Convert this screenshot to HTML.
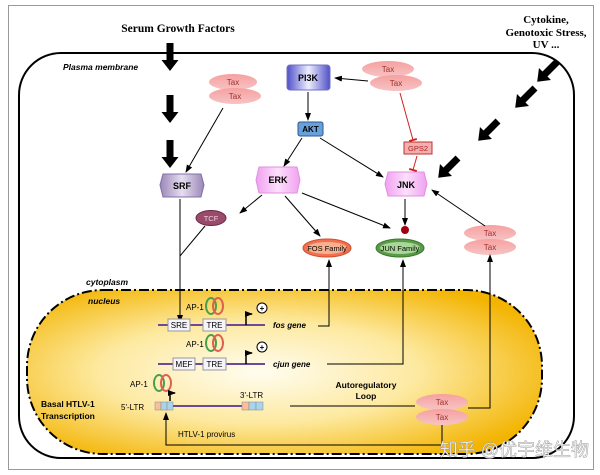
<!DOCTYPE html>
<html><head><meta charset="utf-8"><style>
body{margin:0;background:#fff}
svg{display:block}
.s{font-family:"Liberation Sans",sans-serif}
.sf{font-family:"Liberation Serif",serif}
</style></head><body>
<svg width="600" height="475" viewBox="0 0 600 475" xmlns="http://www.w3.org/2000/svg" class="s" font-family="Liberation Sans">
<defs>
<radialGradient id="nuc" cx="0.45" cy="0.5" r="0.62">
<stop offset="0" stop-color="#fffdf0"/><stop offset="0.5" stop-color="#fde9a0"/><stop offset="1" stop-color="#f3b400"/>
</radialGradient>
<linearGradient id="tax" x1="0" y1="0" x2="0" y2="1"><stop offset="0" stop-color="#f7a0a0"/><stop offset="1" stop-color="#f6c4c4"/></linearGradient>
<linearGradient id="pi3k" x1="0" y1="0" x2="1" y2="0"><stop offset="0" stop-color="#5050c8"/><stop offset="0.5" stop-color="#eeeeff"/><stop offset="1" stop-color="#5050c8"/></linearGradient>
<linearGradient id="pink" x1="0" y1="0" x2="1" y2="0"><stop offset="0" stop-color="#f0a0f0"/><stop offset="0.5" stop-color="#fbe0fb"/><stop offset="1" stop-color="#f0a0f0"/></linearGradient>
<linearGradient id="srf" x1="0" y1="0" x2="1" y2="0"><stop offset="0" stop-color="#9a86b8"/><stop offset="0.5" stop-color="#e6def0"/><stop offset="1" stop-color="#9a86b8"/></linearGradient>
<marker id="a" markerWidth="8" markerHeight="8" refX="7" refY="4" orient="auto" markerUnits="userSpaceOnUse"><path d="M0,1 L8,4 L0,7z" fill="#000"/></marker>
<marker id="t" markerWidth="8" markerHeight="8" refX="1" refY="4" orient="auto" markerUnits="userSpaceOnUse"><path d="M1,0 L1,8" stroke="#d02020" stroke-width="2"/></marker>
<g id="bigarrow"><path d="M-3.5,0 h7 v17 h5 l-8.5,11 l-8.5,-11 h5z" fill="#000"/></g>
</defs>
<rect x="8.5" y="5.5" width="585" height="464" fill="#fff" stroke="#999" stroke-width="1"/>
<rect x="19" y="53" width="555" height="405" rx="42" fill="none" stroke="#000" stroke-width="2"/>
<rect x="27" y="290" width="515" height="164" rx="76" fill="url(#nuc)" stroke="#000" stroke-width="2" stroke-dasharray="10,3,2,3"/>

<text x="178" y="32" font-weight="bold" font-size="11.5" text-anchor="middle" class="sf" font-family="Liberation Serif">Serum Growth Factors</text>
<text x="546" y="23" font-weight="bold" font-size="11" text-anchor="middle" class="sf" font-family="Liberation Serif">Cytokine,</text>
<text x="546" y="36" font-weight="bold" font-size="11" text-anchor="middle" class="sf" font-family="Liberation Serif">Genotoxic Stress,</text>
<text x="546" y="48" font-weight="bold" font-size="11" text-anchor="middle" class="sf" font-family="Liberation Serif">UV ...</text>
<text x="63" y="70" font-size="8.5" font-style="italic" font-weight="bold">Plasma membrane</text>

<use href="#bigarrow" x="170" y="43"/><use href="#bigarrow" x="170" y="95"/><use href="#bigarrow" x="170" y="140"/>
<use href="#bigarrow" transform="translate(557,62) rotate(45)"/>
<use href="#bigarrow" transform="translate(535,88) rotate(45)"/>
<use href="#bigarrow" transform="translate(498,121) rotate(45)"/>
<use href="#bigarrow" transform="translate(458,158) rotate(45)"/>

<g font-size="8" text-anchor="middle" fill="#a03030">
<ellipse cx="233" cy="82" rx="24" ry="8" fill="url(#tax)"/><text x="233" y="85">Tax</text>
<ellipse cx="235" cy="96" rx="26" ry="8" fill="url(#tax)"/><text x="235" y="99">Tax</text>
<ellipse cx="388" cy="69" rx="26" ry="8" fill="url(#tax)"/><text x="388" y="72">Tax</text>
<ellipse cx="396" cy="83" rx="26" ry="8" fill="url(#tax)"/><text x="396" y="86">Tax</text>
<ellipse cx="490" cy="233" rx="26" ry="8" fill="url(#tax)"/><text x="490" y="236">Tax</text>
<ellipse cx="490" cy="247" rx="26" ry="8" fill="url(#tax)"/><text x="490" y="250">Tax</text>
<ellipse cx="442" cy="402" rx="26" ry="8" fill="url(#tax)"/><text x="442" y="405">Tax</text>
<ellipse cx="442" cy="417" rx="26" ry="8" fill="url(#tax)"/><text x="442" y="420">Tax</text>
</g>

<rect x="287" y="65" width="43" height="25" rx="3" fill="url(#pi3k)" stroke="#7070c0"/>
<text x="308" y="81" font-size="9" font-weight="bold" text-anchor="middle">PI3K</text>
<rect x="298" y="122" width="25" height="14" rx="2" fill="#6aa0d8" stroke="#2a5a98"/>
<text x="310.5" y="132" font-size="8" font-weight="bold" text-anchor="middle">AKT</text>
<rect x="404" y="142" width="28" height="12" fill="#f0b0b0" stroke="#c03030"/>
<text x="418" y="151" font-size="7.5" fill="#b02020" text-anchor="middle">GPS2</text>
<path d="M259,167 h38 l3,13 l-3,13 h-38 l-3,-13z" fill="url(#pink)" stroke="#e090e0"/>
<text x="278" y="183" font-size="9" font-weight="bold" text-anchor="middle">ERK</text>
<path d="M388,172 h36 l3,12 l-3,12 h-36 l-3,-12z" fill="url(#pink)" stroke="#e090e0"/>
<text x="406" y="188" font-size="9" font-weight="bold" text-anchor="middle">JNK</text>
<path d="M163,174 h38 l3,11 l-3,12 h-38 l-3,-12z" fill="url(#srf)" stroke="#8070a8"/>
<text x="182" y="189" font-size="9" font-weight="bold" text-anchor="middle">SRF</text>
<ellipse cx="211" cy="218" rx="15" ry="7.5" fill="#9a4a6a" stroke="#6a2a4a"/>
<text x="211" y="221" font-size="7.5" fill="#f0d0e0" text-anchor="middle">TCF</text>
<ellipse cx="327" cy="248" rx="24" ry="9" fill="#f07050" stroke="#d05030"/>
<ellipse cx="327" cy="248" rx="20" ry="6" fill="#f8b090"/>
<text x="327" y="251" font-size="7.5" text-anchor="middle">FOS Family</text>
<ellipse cx="400" cy="248" rx="24" ry="9" fill="#5a9a4a" stroke="#3a7a2a"/>
<ellipse cx="400" cy="248" rx="20" ry="6" fill="#a8d898"/>
<text x="400" y="251" font-size="7.5" text-anchor="middle">JUN Family</text>

<g stroke="#000" stroke-width="1" fill="none" marker-end="url(#a)">
<line x1="368" y1="81" x2="335" y2="78"/>
<line x1="308" y1="92" x2="308" y2="120"/>
<line x1="302" y1="138" x2="284" y2="166"/>
<line x1="320" y1="138" x2="383" y2="177"/>
<line x1="223" y1="108" x2="186" y2="172"/>
<line x1="262" y1="195" x2="240" y2="213"/>
<line x1="285" y1="196" x2="320" y2="236"/>
<line x1="302" y1="193" x2="390" y2="228"/>
<line x1="405" y1="199" x2="405" y2="225"/>
<line x1="485" y1="226" x2="432" y2="190"/>
<path d="M180,199 V322"/>
<path d="M318,326 H329 V260"/>
<path d="M327,364 H403 V260"/>
<path d="M468,408 H490 V255"/>
<path d="M442,425 V445 H166 V413"/>
</g>
<path d="M180,256 L205,226" stroke="#000" fill="none"/>
<line x1="290" y1="406" x2="415" y2="406" stroke="#000"/>
<path d="M400,93 L413,140" stroke="#d02020" fill="none" marker-end="url(#t)"/>
<path d="M417,156 L413,170" stroke="#d02020" fill="none" marker-end="url(#t)"/>
<circle cx="405" cy="230" r="4" fill="#a00010"/>

<text x="86" y="285" font-size="8.5" font-style="italic" font-weight="bold">cytoplasm</text>
<text x="88" y="304" font-size="8.5" font-style="italic" font-weight="bold">nucleus</text>

<g font-size="8">
<line x1="158" y1="325" x2="265" y2="325" stroke="#6a4a9a" stroke-width="2"/>
<rect x="168" y="319" width="22" height="12" fill="#f4f4fa" stroke="#999"/><text x="179" y="328" text-anchor="middle">SRE</text>
<rect x="203" y="319" width="23" height="12" fill="#f4f4fa" stroke="#999"/><text x="214.5" y="328" text-anchor="middle">TRE</text>
<text x="273" y="328" font-style="italic" font-weight="bold">fos gene</text>
<text x="186" y="310">AP-1</text>
<ellipse cx="211" cy="306" rx="5" ry="8" fill="none" stroke="#4aa04a" stroke-width="2"/>
<ellipse cx="218" cy="306" rx="5" ry="8" fill="none" stroke="#e06050" stroke-width="2"/>
<path d="M246,325 V314 H252" stroke="#000" stroke-width="1.5" fill="none" marker-end="url(#a)"/>
<circle cx="262" cy="308" r="5" fill="#fff" stroke="#000"/><text x="262" y="311" text-anchor="middle" font-weight="bold">+</text>

<line x1="158" y1="364" x2="265" y2="364" stroke="#6a4a9a" stroke-width="2"/>
<rect x="173" y="358" width="22" height="12" fill="#f4f4fa" stroke="#999"/><text x="184" y="367" text-anchor="middle">MEF</text>
<rect x="203" y="358" width="23" height="12" fill="#f4f4fa" stroke="#999"/><text x="214.5" y="367" text-anchor="middle">TRE</text>
<text x="273" y="367" font-style="italic" font-weight="bold">cjun gene</text>
<text x="186" y="347">AP-1</text>
<ellipse cx="211" cy="343" rx="5" ry="8" fill="none" stroke="#4aa04a" stroke-width="2"/>
<ellipse cx="218" cy="343" rx="5" ry="8" fill="none" stroke="#e06050" stroke-width="2"/>
<path d="M246,364 V353 H252" stroke="#000" stroke-width="1.5" fill="none" marker-end="url(#a)"/>
<circle cx="262" cy="347" r="5" fill="#fff" stroke="#000"/><text x="262" y="350" text-anchor="middle" font-weight="bold">+</text>

<text x="130" y="387">AP-1</text>
<ellipse cx="159" cy="383" rx="5" ry="8" fill="none" stroke="#4aa04a" stroke-width="2"/>
<ellipse cx="166" cy="383" rx="5" ry="8" fill="none" stroke="#e06050" stroke-width="2"/>
<line x1="172" y1="406" x2="242" y2="406" stroke="#6a4a9a" stroke-width="2"/>
<rect x="155" y="402" width="6" height="8" fill="#f6c0a0" stroke="#888" stroke-width="0.5"/>
<rect x="161" y="402" width="6" height="8" fill="#a8d4ee" stroke="#888" stroke-width="0.5"/>
<rect x="167" y="402" width="6" height="8" fill="#a8d4ee" stroke="#888" stroke-width="0.5"/>
<rect x="242" y="402" width="7" height="8" fill="#f6c0a0" stroke="#888" stroke-width="0.5"/>
<rect x="249" y="402" width="7" height="8" fill="#a8d4ee" stroke="#888" stroke-width="0.5"/>
<rect x="256" y="402" width="7" height="8" fill="#a8d4ee" stroke="#888" stroke-width="0.5"/>
<path d="M170,401 V393 H175" stroke="#000" stroke-width="1.5" fill="none" marker-end="url(#a)"/>
<text x="121" y="410">5'-LTR</text>
<text x="240" y="398">3'-LTR</text>
<text x="178" y="437">HTLV-1 provirus</text>
<text x="41" y="407" font-weight="bold" font-size="8.5">Basal HTLV-1</text>
<text x="41" y="419" font-weight="bold" font-size="8.5">Transcription</text>
<text x="366" y="388" font-weight="bold" font-size="8.5" text-anchor="middle">Autoregulatory</text>
<text x="366" y="399" font-weight="bold" font-size="8.5" text-anchor="middle">Loop</text>
</g>
<text x="589" y="456" font-size="18" fill="#fff" stroke="#999" stroke-width="0.5" text-anchor="end" font-family="Liberation Sans, Noto Sans CJK SC, sans-serif" style="font-family:'Liberation Sans','Noto Sans CJK SC',sans-serif">知乎 @优宇维生物</text>
</svg>
</body></html>
